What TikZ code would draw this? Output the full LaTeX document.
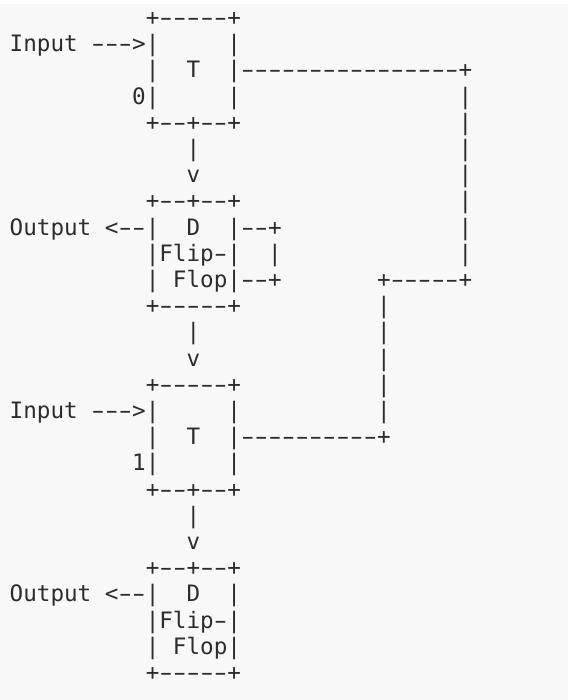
\documentclass[tikz,border=0pt]{standalone}
\usepackage{graphicx}
\usepackage{fontspec}
\setmonofont{DejaVu Sans Mono}
\newcommand\hy{\makebox[0.602em]{\scalebox{1.65}[1]{-}}}
\ExplSyntaxOn
\NewDocumentCommand\blk{m}{\prg_replicate:nn{#1}{\nobreakspace}}
\NewDocumentCommand\dsh{m}{\prg_replicate:nn{#1}{\hy}}
\ExplSyntaxOff
\definecolor{bg}{HTML}{F8F8F8}
\definecolor{ink}{HTML}{2C2C2C}
\begin{document}
\begin{tikzpicture}[x=1pt,y=-1pt,
  asc/.style={anchor=base west, inner sep=0pt, outer sep=0pt, text=ink,
    font=\ttfamily\fontsize{22.6}{26.2}\selectfont}]
\useasboundingbox (0,0) rectangle (568,700);
\fill[white] (0,0) rectangle (568,700);
\fill[bg] (0,4) rectangle (568,700);
\def\rowx{9.7}
\node[asc] (r0)  at (\rowx,25.5)  {\blk{10}+\dsh{5}+};
\node[asc] (r1)  at (\rowx,51.7)  {Input~\dsh{3}>|\blk{5}|};
\node[asc] (r2)  at (\rowx,77.9)  {\blk{10}|\blk{2}T\blk{2}|\dsh{16}+};
\node[asc] (r3)  at (\rowx,104.1) {\blk{9}0|\blk{5}|\blk{16}|};
\node[asc] (r4)  at (\rowx,130.3) {\blk{10}+\dsh{2}+\dsh{2}+\blk{16}|};
\node[asc] (r5)  at (\rowx,156.5) {\blk{13}|\blk{19}|};
\node[asc] (r6)  at (\rowx,182.7) {\blk{13}v\blk{19}|};
\node[asc] (r7)  at (\rowx,208.9) {\blk{10}+\dsh{2}+\dsh{2}+\blk{16}|};
\node[asc] (r8)  at (\rowx,235.1) {Output~<\dsh{2}|\blk{2}D\blk{2}|\dsh{2}+\blk{13}|};
\node[asc] (r9)  at (\rowx,261.3) {\blk{10}|Flip\hy|\blk{2}|\blk{13}|};
\node[asc] (r10) at (\rowx,287.5) {\blk{10}|~Flop|\dsh{2}+\blk{7}+\dsh{5}+};
\node[asc] (r11) at (\rowx,313.7) {\blk{10}+\dsh{5}+\blk{10}|};
\node[asc] (r12) at (\rowx,339.9) {\blk{13}|\blk{13}|};
\node[asc] (r13) at (\rowx,366.1) {\blk{13}v\blk{13}|};
\node[asc] (r14) at (\rowx,392.3) {\blk{10}+\dsh{5}+\blk{10}|};
\node[asc] (r15) at (\rowx,418.5) {Input~\dsh{3}>|\blk{5}|\blk{10}|};
\node[asc] (r16) at (\rowx,444.7) {\blk{10}|\blk{2}T\blk{2}|\dsh{10}+};
\node[asc] (r17) at (\rowx,470.9) {\blk{9}1|\blk{5}|};
\node[asc] (r18) at (\rowx,497.1) {\blk{10}+\dsh{2}+\dsh{2}+};
\node[asc] (r19) at (\rowx,523.3) {\blk{13}|};
\node[asc] (r20) at (\rowx,549.5) {\blk{13}v};
\node[asc] (r21) at (\rowx,575.7) {\blk{10}+\dsh{2}+\dsh{2}+};
\node[asc] (r22) at (\rowx,601.9) {Output~<\dsh{2}|\blk{2}D\blk{2}|};
\node[asc] (r23) at (\rowx,628.1) {\blk{10}|Flip\hy|};
\node[asc] (r24) at (\rowx,654.3) {\blk{10}|~Flop|};
\node[asc] (r25) at (\rowx,680.5) {\blk{10}+\dsh{5}+};
\end{tikzpicture}
\end{document}
